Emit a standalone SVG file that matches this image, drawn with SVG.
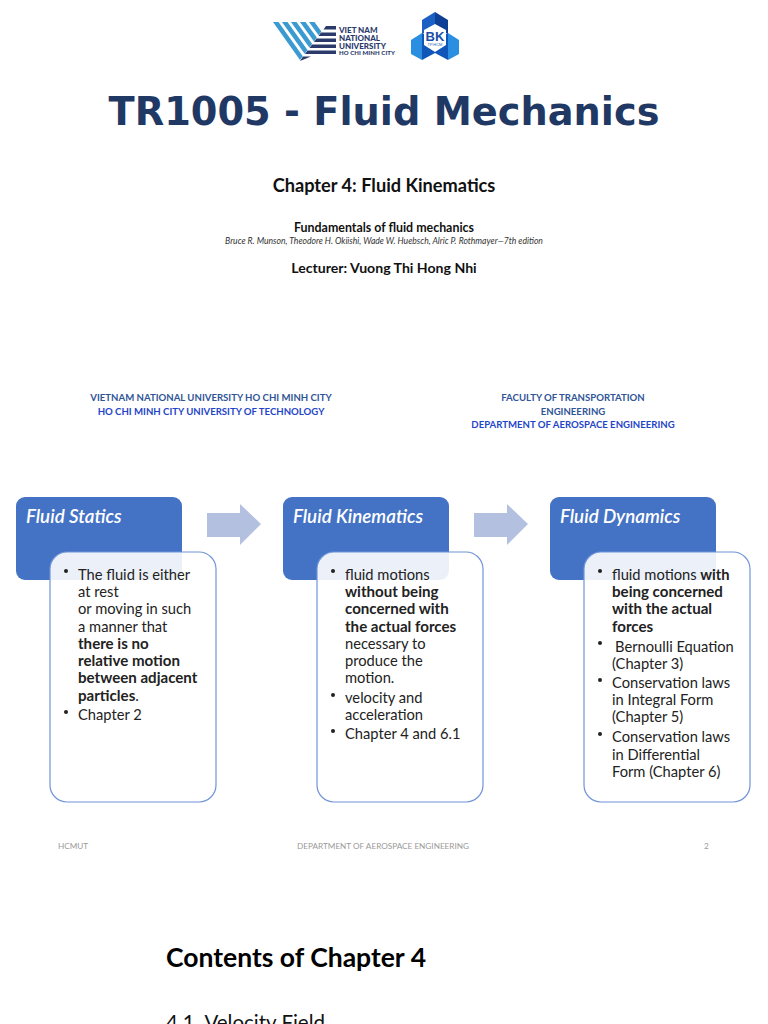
<svg xmlns="http://www.w3.org/2000/svg" width="768" height="1024" viewBox="0 0 768 1024">
<style>
text{font-family:"Lato","Noto Sans",sans-serif;fill:#1a1a1a}
.b{font-size:14.7px;fill:#222}
.bb{font-size:15.1px;font-weight:700;fill:#222}
.h{font-size:18.8px;font-style:italic;font-weight:600;fill:#fff}
.fac{font-size:9.6px;font-weight:700;text-anchor:middle;fill:#2f5597}
.fac2{font-size:9.6px;font-weight:700;text-anchor:middle;fill:#1f45c8}
.foot{font-size:8.2px;fill:#999}
.hd{fill:#4472c4}
.card{fill:#fff;fill-opacity:.9;stroke:#6f94d8;stroke-width:1.2}
.arr{fill:#b4c0e0}
.lg{font-weight:900;fill:#2b3a6b}
</style>
<rect width="768" height="1024" fill="#fff"/>
<g id="logo-vnu">
<path d="M273 22h5.500L302.800 56.200 300 60zM282 22h5.500L307.500 50 304.600 53.800zM291 22h5.500L312.100 43.800 309.300 47.600zM300 22h5.500L316.800 37.600 314 41.400zM309 22h5.500L321.400 31.400 318.600 35.200z" fill="#3a9ad1"/>
<path d="M326 26h10v3.500H323.500zM321 32.500h15v3.500H318.500zM316.500 38.500h19.500v3.500H314zM312 44.500h24v3.500H309.500zM307.500 50.500h28.500v3.500H305zM303 56.500h8l-11 4.500z" fill="#2b3a6b"/>
<text class="lg" x="339" y="33" style="font-size:8px">VIET NAM</text>
<text class="lg" x="339" y="41" style="font-size:8px">NATIONAL</text>
<text class="lg" x="339" y="49" style="font-size:8px">UNIVERSITY</text>
<text class="lg" x="339" y="55" style="font-size:6px" textLength="56">HO CHI MINH CITY</text>
</g>
<g id="logo-bk">
<path d="M435 12v16l-13 6V20z" fill="#1a5fc4"/>
<path d="M435 12l13 8v14l-13-6z" fill="#0d3f94"/>
<path d="M422 33l-11 7v14l11 6z" fill="#2a8fe0"/>
<path d="M422 33l13 7v13l-13 7z" fill="#0f56b8"/>
<path d="M448 33l11 7v14l-11 6z" fill="#2a8fe0"/>
<path d="M448 33l-13 7v13l13 7z" fill="#0f56b8"/>
<path d="M424 30l11-6 11 6v15l-11 7-11-7z" fill="#fff"/>
<text x="435" y="41" text-anchor="middle" style="font-size:13px;font-weight:700;fill:#1a4fa8;font-family:'Liberation Sans',sans-serif">BK</text>
<text x="435" y="46" text-anchor="middle" style="font-size:4px;fill:#1a5fb4;font-family:'Liberation Sans',sans-serif">TP.HCM</text>
</g>
<g id="title">
<text x="384" y="125" text-anchor="middle" style="font-family:'DejaVu Sans',sans-serif;font-size:38.3px;font-weight:700;fill:#1f3864">TR1005 - Fluid Mechanics</text>
<text x="384" y="192" text-anchor="middle" style="font-size:18.2px;font-weight:700;fill:#111">Chapter 4: Fluid Kinematics</text>
<text x="384" y="232" text-anchor="middle" style="font-size:12.4px;font-weight:700;fill:#111">Fundamentals of fluid mechanics</text>
<text x="384" y="244" text-anchor="middle" style="font-size:8.6px;font-style:italic;fill:#333">Bruce R. Munson, Theodore H. Okiishi, Wade W. Huebsch, Alric P. Rothmayer—7th edition</text>
<text x="384" y="273" text-anchor="middle" style="font-size:14.1px;font-weight:700;fill:#111">Lecturer: Vuong Thi Hong Nhi</text>
</g>
<g id="affiliations">
<text x="211" y="401" class="fac">VIETNAM NATIONAL UNIVERSITY HO CHI MINH CITY</text>
<text x="211" y="415" class="fac2">HO CHI MINH CITY UNIVERSITY OF TECHNOLOGY</text>
<text x="573" y="401" class="fac">FACULTY OF TRANSPORTATION</text>
<text x="573" y="415" class="fac">ENGINEERING</text>
<text x="573" y="428" class="fac2">DEPARTMENT OF AEROSPACE ENGINEERING</text>
</g>
<g id="connectors">
<path class="arr" d="M207 513h33v-9l21 20-21 21v-8h-33z"/>
<path class="arr" d="M474 513h33v-9l21 20-21 21v-8h-33z"/>
</g>
<g id="node-statics">
<rect class="hd" x="16" y="497" width="166" height="83" rx="9"/>
<text class="h" x="26" y="523">Fluid Statics</text>
<rect class="card" x="50" y="552" width="166" height="250" rx="17"/>
<circle cx="66" cy="571" r="2" fill="#222"/>
<text class="b" x="78" y="580">The fluid is either</text>
<text class="b" x="78" y="597">at rest</text>
<text class="b" x="78" y="614">or moving in such</text>
<text class="b" x="78" y="632">a manner that</text>
<text class="bb" x="78" y="649">there is no</text>
<text class="bb" x="78" y="666">relative motion</text>
<text class="bb" x="78" y="683">between adjacent</text>
<text class="bb" x="78" y="701">particles<tspan style="font-weight:400">.</tspan></text>
<circle cx="66" cy="712" r="2" fill="#222"/>
<text class="b" x="78" y="720">Chapter 2</text>
</g>
<g id="node-kinematics">
<rect class="hd" x="283" y="497" width="166" height="83" rx="9"/>
<text class="h" x="293" y="523">Fluid Kinematics</text>
<rect class="card" x="317" y="552" width="166" height="250" rx="17"/>
<circle cx="333" cy="571" r="2" fill="#222"/>
<text class="b" x="345" y="580">fluid motions</text>
<text class="bb" x="345" y="597">without being</text>
<text class="bb" x="345" y="614">concerned with</text>
<text class="bb" x="345" y="632">the actual forces</text>
<text class="b" x="345" y="649">necessary to</text>
<text class="b" x="345" y="666">produce the</text>
<text class="b" x="345" y="683">motion.</text>
<circle cx="333" cy="695" r="2" fill="#222"/>
<text class="b" x="345" y="703">velocity and</text>
<text class="b" x="345" y="720">acceleration</text>
<circle cx="333" cy="731" r="2" fill="#222"/>
<text class="b" x="345" y="739">Chapter 4 and 6.1</text>
</g>
<g id="node-dynamics">
<rect class="hd" x="550" y="497" width="166" height="83" rx="9"/>
<text class="h" x="560" y="523">Fluid Dynamics</text>
<rect class="card" x="584" y="552" width="166" height="250" rx="17"/>
<circle cx="600" cy="571" r="2" fill="#222"/>
<text class="b" x="612" y="580">fluid motions <tspan style="font-weight:700">with</tspan></text>
<text class="bb" x="612" y="597">being concerned</text>
<text class="bb" x="612" y="614">with the actual</text>
<text class="bb" x="612" y="632">forces</text>
<circle cx="600" cy="643" r="2" fill="#222"/>
<text class="b" x="615" y="652">Bernoulli Equation</text>
<text class="b" x="612" y="669">(Chapter 3)</text>
<circle cx="600" cy="680" r="2" fill="#222"/>
<text class="b" x="612" y="688">Conservation laws</text>
<text class="b" x="612" y="705">in Integral Form</text>
<text class="b" x="612" y="722">(Chapter 5)</text>
<circle cx="600" cy="734" r="2" fill="#222"/>
<text class="b" x="612" y="742">Conservation laws</text>
<text class="b" x="612" y="760">in Differential</text>
<text class="b" x="612" y="777">Form (Chapter 6)</text>
</g>
<g id="footer">
<text class="foot" x="58" y="849">HCMUT</text>
<text class="foot" x="383" y="849" text-anchor="middle">DEPARTMENT OF AEROSPACE ENGINEERING</text>
<text class="foot" x="704" y="849">2</text>
</g>
<g id="contents">
<text x="166" y="967" style="font-size:26.5px;font-weight:700;fill:#000">Contents of Chapter 4</text>
<text x="166" y="1030" style="font-size:20.5px;fill:#111">4.1&#160; Velocity Field</text>
</g>
</svg>
